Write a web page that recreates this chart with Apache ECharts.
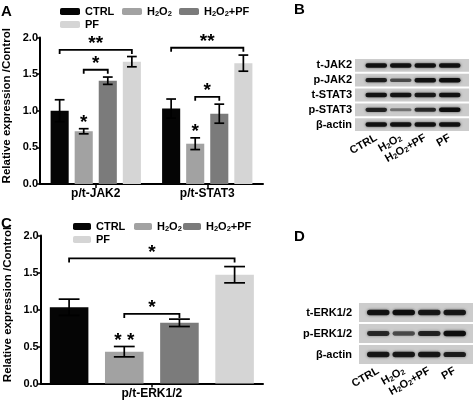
<!DOCTYPE html>
<html>
<head>
<meta charset="utf-8">
<script src="https://cdn.jsdelivr.net/npm/echarts@6/dist/echarts.min.js"></script>
<style>
  html, body { margin: 0; padding: 0; background: #fff; }
  #chart { width: 474px; height: 402px; }
</style>
</head>
<body>
<div id="chart"></div>
<script>
// groups and values
const groups = ['CTRL', 'H2O2', 'H2O2+PF', 'PF'];

const aCats = ['p/t-JAK2', 'p/t-STAT3'];
const aMean = [[1.00, 1.03], [0.72, 0.55], [1.41, 0.96], [1.67, 1.65]];
const aErr = [[0.15, 0.13], [0.035, 0.08], [0.05, 0.13], [0.07, 0.11]];
// [category, bracket level, from group, to group]
const aSig = [[0, 1.83, 0, 3], [0, 1.56, 1, 2], [1, 1.86, 0, 3], [1, 1.19, 1, 2]];
const aSigText = ['**', '*', '**', '*'];
// [category, group] star above a single bar
const aMark = [[0, 1], [1, 1]];
const aMarkText = ['*', '*'];

const cCats = ['p/t-ERK1/2'];
const cMean = [[1.03], [0.43], [0.82], [1.47]];
const cErr = [[0.11], [0.07], [0.05], [0.11]];
const cSig = [[0, 1.69, 0, 3], [0, 0.94, 1, 2]];
const cSigText = ['*', '*'];
const cMark = [[0, 1]];
const cMarkText = ['* *'];

// western blot band strength per protein row, per lane
const lanes = ['CTRL', 'H2O2', 'H2O2+PF', 'PF'];
const bProteins = ['t-JAK2', 'p-JAK2', 't-STAT3', 'p-STAT3', 'β-actin'];
const bBands = [
  [0.90, 0.90, 0.90, 0.90],
  [0.80, 0.45, 0.90, 0.95],
  [0.88, 0.88, 0.82, 0.88],
  [0.75, 0.20, 0.70, 0.95],
  [0.90, 0.90, 0.90, 0.90]
];
const dProteins = ['t-ERK1/2', 'p-ERK1/2', 'β-actin'];
const dBands = [
  [0.90, 0.95, 0.85, 0.85],
  [0.70, 0.45, 0.75, 0.95],
  [0.85, 0.85, 0.85, 0.80]
];

const colors = ['#050505', '#a2a2a2', '#7b7b7b', '#d5d5d5'];
const FONT = '"Liberation Sans", Arial, Helvetica, sans-serif';
const subRich = { s: { fontSize: 7.5, fontWeight: 'bold', fontFamily: FONT, color: '#000', verticalAlign: 'bottom', padding: [4, 0, 0, 0] } };
const sub = s => s.replace(/H2O2/g, 'H{s|2}O{s|2}');
const STAR_FONT = 'bold 19px ' + FONT;

const chart = echarts.init(document.getElementById('chart'), null, { renderer: 'canvas' });

// centre x of bar "idx" inside category "cat" (same rule ECharts uses)
function barX(api, cat, idx, n, catGap, gapRatio) {
  const cw = api.size([1, 0])[0];
  const band = cw * (1 - catGap);
  const bw = band / (n + (n - 1) * gapRatio);
  const base = api.coord([cat, 0])[0];
  return { x: base - band / 2 + idx * bw * (1 + gapRatio) + bw / 2, bw: bw };
}

function errRender(catGap, gapRatio) {
  return function (params, api) {
    const cat = api.value(0), m = api.value(1), e = api.value(2), g = api.value(3);
    const b = barX(api, cat, g, groups.length, catGap, gapRatio);
    const top = api.coord([cat, m + e])[1];
    const bot = api.coord([cat, m - e])[1];
    const hw = b.bw * 0.27;
    const st = { stroke: '#000', lineWidth: 1.7 };
    return {
      type: 'group',
      children: [
        { type: 'line', shape: { x1: b.x, y1: top, x2: b.x, y2: bot }, style: st },
        { type: 'line', shape: { x1: b.x - hw, y1: top, x2: b.x + hw, y2: top }, style: st },
        { type: 'line', shape: { x1: b.x - hw, y1: bot, x2: b.x + hw, y2: bot }, style: st }
      ]
    };
  };
}

function sigRender(catGap, gapRatio, texts) {
  return function (params, api) {
    const cat = api.value(0), lvl = api.value(1);
    const y = api.coord([cat, lvl])[1];
    const x1 = barX(api, cat, api.value(2), groups.length, catGap, gapRatio).x;
    const x2 = barX(api, cat, api.value(3), groups.length, catGap, gapRatio).x;
    return {
      type: 'group',
      children: [
        { type: 'polyline', shape: { points: [[x1, y + 4], [x1, y], [x2, y], [x2, y + 4]] },
          style: { stroke: '#000', fill: null, lineWidth: 1.8 } },
        { type: 'text', style: { x: (x1 + x2) / 2, y: y - 6, text: texts[params.dataIndex],
          font: STAR_FONT, fill: '#000', align: 'center', verticalAlign: 'middle' } }
      ]
    };
  };
}

function markRender(catGap, gapRatio, texts) {
  return function (params, api) {
    const cat = api.value(0), top = api.value(1);
    const b = barX(api, cat, api.value(2), groups.length, catGap, gapRatio);
    const y = api.coord([cat, top])[1];
    return {
      type: 'text',
      style: { x: b.x, y: y - 6, text: texts[params.dataIndex], font: STAR_FONT,
        fill: '#000', align: 'center', verticalAlign: 'middle' }
    };
  };
}

function blotBg(padL, padR) {
  return function (params, api) {
    const cs = params.coordSys;
    const y = api.coord([0, api.value(1)])[1];
    const h = api.size([1, 1])[1];
    return {
      type: 'rect',
      shape: { x: cs.x - padL, y: y - h / 2 + 1, width: cs.width + padL + padR, height: h - 2 },
      style: { fill: '#cccccc' }
    };
  };
}

function bandRender(thick) {
  return function (params, api) {
    const p = api.coord([api.value(0), api.value(1)]);
    const s = api.size([1, 1]);
    const k = api.value(2);
    const w = s[0] * 0.88;
    const h = s[1] * thick * (0.55 + 0.45 * k);
    return {
      type: 'rect',
      shape: { x: p[0] - w / 2, y: p[1] - h / 2, width: w, height: h, r: h / 2 },
      style: { fill: 'rgba(10,10,10,' + (0.3 + 0.7 * k) + ')', shadowBlur: 3, shadowColor: 'rgba(10,10,10,' + (0.7 * k) + ')' }
    };
  };
}

const A = { catGap: 0.19, barGap: 0.33 };
const C = { catGap: 0.082, barGap: 0.43 };

function errData(mean, err) {
  const out = [];
  mean.forEach((row, g) => row.forEach((v, c) => out.push([c, v, err[g][c], g])));
  return out;
}
function markData(marks, mean, err) {
  return marks.map(m => [m[0], mean[m[1]][m[0]] + err[m[1]][m[0]], m[1]]);
}
function bandData(bands) {
  const out = [];
  bands.forEach((row, r) => row.forEach((k, l) => out.push([l, r, k])));
  return out;
}

const labelStyle = { color: '#000', fontWeight: 'bold', fontSize: 11, fontFamily: FONT };

function valueAxis(gridIndex) {
  return {
    type: 'value', gridIndex: gridIndex, min: 0, max: 2, interval: 0.5,
    name: 'Relative expression /Control', nameLocation: 'middle', nameGap: 27,
    nameTextStyle: Object.assign({}, labelStyle, { fontSize: 11.5, padding: [0, 0, 0, 10] }),
    axisLine: { show: true, lineStyle: { color: '#000', width: 2 } },
    axisTick: { show: true, length: 3, lineStyle: { color: '#000', width: 1.5 } },
    axisLabel: Object.assign({ margin: 2, formatter: v => v.toFixed(1) }, labelStyle),
    splitLine: { show: false }
  };
}
function catAxis(gridIndex, data) {
  return {
    type: 'category', gridIndex: gridIndex, data: data,
    axisLine: { show: true, lineStyle: { color: '#000', width: 2 } },
    axisTick: { show: true, alignWithLabel: true, length: 4, lineStyle: { color: '#000', width: 1.5 } },
    axisLabel: Object.assign({ margin: 4 }, labelStyle, { fontSize: 12 })
  };
}
function laneAxis(gridIndex) {
  return {
    type: 'category', gridIndex: gridIndex, data: lanes,
    axisLine: { show: false }, axisTick: { show: false },
    axisLabel: Object.assign({ rotate: 30, margin: 5, formatter: sub, rich: subRich, interval: 0 }, labelStyle)
  };
}
function proteinAxis(gridIndex, data, margin) {
  return {
    type: 'category', gridIndex: gridIndex, data: data, inverse: true,
    axisLine: { show: false }, axisTick: { show: false },
    axisLabel: Object.assign({ margin: margin }, labelStyle)
  };
}

function legendItem(name, left, top, w) {
  return {
    data: [name], left: left, top: top, padding: 0, icon: 'roundRect',
    itemWidth: w, itemHeight: 7, itemGap: 0, selectedMode: false,
    formatter: sub, textStyle: Object.assign({ rich: subRich }, labelStyle)
  };
}

const series = [];
groups.forEach((g, i) => {
  series.push({ type: 'bar', name: g, xAxisIndex: 0, yAxisIndex: 0, data: aMean[i],
    itemStyle: { color: colors[i] }, barCategoryGap: '19%', barGap: '33%' });
  series.push({ type: 'bar', name: g, xAxisIndex: 1, yAxisIndex: 1, data: cMean[i],
    itemStyle: { color: colors[i] }, barCategoryGap: '8.2%', barGap: '43%' });
});
series.push(
  { type: 'custom', xAxisIndex: 0, yAxisIndex: 0, z: 5, renderItem: errRender(A.catGap, A.barGap), data: errData(aMean, aErr) },
  { type: 'custom', xAxisIndex: 0, yAxisIndex: 0, z: 5, renderItem: sigRender(A.catGap, A.barGap, aSigText), data: aSig },
  { type: 'custom', xAxisIndex: 0, yAxisIndex: 0, z: 5, renderItem: markRender(A.catGap, A.barGap, aMarkText), data: markData(aMark, aMean, aErr) },
  { type: 'custom', xAxisIndex: 1, yAxisIndex: 1, z: 5, renderItem: errRender(C.catGap, C.barGap), data: errData(cMean, cErr) },
  { type: 'custom', xAxisIndex: 1, yAxisIndex: 1, z: 5, renderItem: sigRender(C.catGap, C.barGap, cSigText), data: cSig },
  { type: 'custom', xAxisIndex: 1, yAxisIndex: 1, z: 5, renderItem: markRender(C.catGap, C.barGap, cMarkText), data: markData(cMark, cMean, cErr) },
  { type: 'custom', xAxisIndex: 2, yAxisIndex: 2, z: 1, renderItem: blotBg(9, 7), data: bProteins.map((p, r) => [0, r]) },
  { type: 'custom', xAxisIndex: 2, yAxisIndex: 2, z: 2, renderItem: bandRender(0.32), data: bandData(bBands) },
  { type: 'custom', xAxisIndex: 3, yAxisIndex: 3, z: 1, renderItem: blotBg(6.5, 5.5), data: dProteins.map((p, r) => [0, r]) },
  { type: 'custom', xAxisIndex: 3, yAxisIndex: 3, z: 2, renderItem: bandRender(0.27), data: bandData(dBands) }
);

const titleStyle = { fontSize: 15, fontWeight: 'bold', color: '#000', fontFamily: FONT };
const option = {
  animation: false,
  backgroundColor: '#fff',
  textStyle: { fontFamily: FONT },
  title: [
    { text: 'A', left: 1, top: 4, padding: 0, textStyle: titleStyle },
    { text: 'B', left: 294, top: 2, padding: 0, textStyle: titleStyle },
    { text: 'C', left: 1, top: 216, padding: 0, textStyle: titleStyle },
    { text: 'D', left: 294, top: 229, padding: 0, textStyle: titleStyle }
  ],
  legend: [
    legendItem('CTRL', 60, 6, 20), legendItem('H2O2', 122, 6, 20), legendItem('H2O2+PF', 179, 6, 20), legendItem('PF', 60, 19, 20),
    legendItem('CTRL', 73, 221, 18), legendItem('H2O2', 134, 221, 18), legendItem('H2O2+PF', 183, 221, 18), legendItem('PF', 73, 234, 18)
  ],
  grid: [
    { left: 40, top: 37.5, width: 223, height: 146.5, containLabel: false, outerBoundsMode: 'none' },
    { left: 40.7, top: 235.5, width: 222.3, height: 148, containLabel: false, outerBoundsMode: 'none' },
    { left: 364, top: 58, width: 98, height: 74, containLabel: false, outerBoundsMode: 'none' },
    { left: 365.5, top: 302, width: 102, height: 63, containLabel: false, outerBoundsMode: 'none' }
  ],
  xAxis: [catAxis(0, aCats), catAxis(1, cCats), laneAxis(2), laneAxis(3)],
  yAxis: [valueAxis(0), valueAxis(1), proteinAxis(2, bProteins, 12), proteinAxis(3, dProteins, 13.5)],
  series: series
};

chart.setOption(option);
</script>
</body>
</html>
